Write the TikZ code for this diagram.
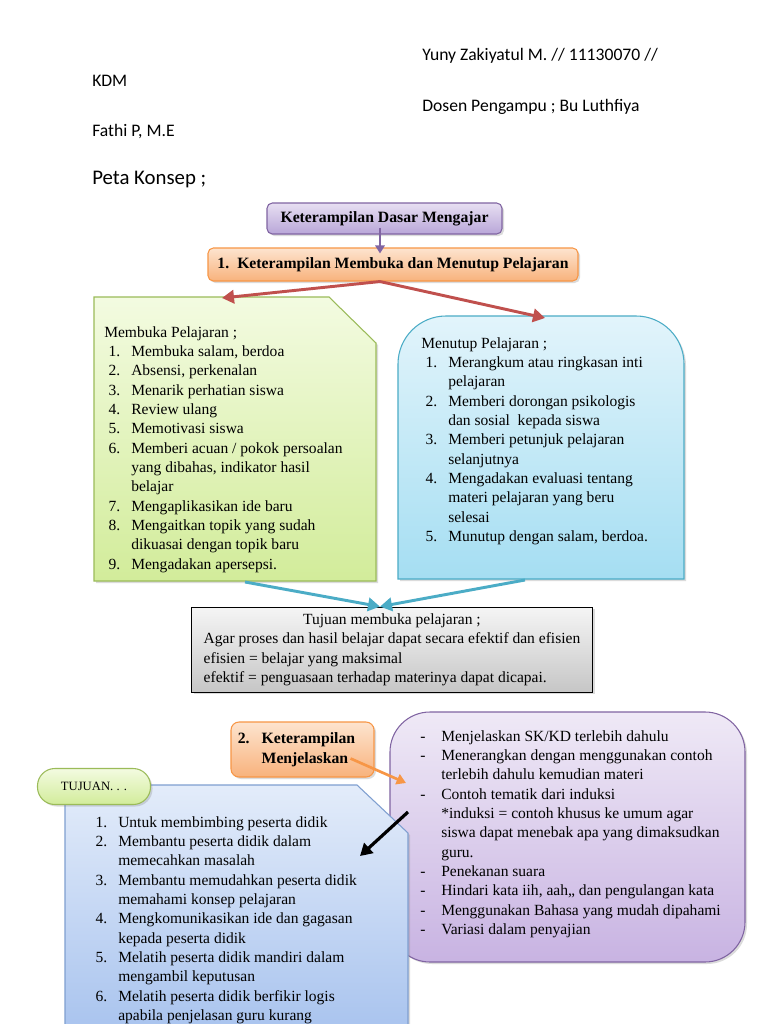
\documentclass[tikz,border=0pt]{standalone}
\usepackage{fontspec}
\setmainfont{Liberation Serif}
\newfontfamily\hdrfont{Carlito}
\usetikzlibrary{arrows.meta,shadows,calc}
\definecolor{lavT}{HTML}{E7DFF2}
\definecolor{lavB}{HTML}{B9A6D8}
\definecolor{purpB}{HTML}{8064A2}
\definecolor{orgT}{HTML}{FDE4CF}
\definecolor{orgBot}{HTML}{F8B27C}
\definecolor{orgB}{HTML}{F79646}
\definecolor{redA}{HTML}{C0504D}
\definecolor{grnT}{HTML}{F3FBE1}
\definecolor{grnBot}{HTML}{D2EC9A}
\definecolor{grnB}{HTML}{9BBB59}
\definecolor{bluT}{HTML}{E2F4FB}
\definecolor{bluBot}{HTML}{A5DEF2}
\definecolor{bluB}{HTML}{4BACC6}
\definecolor{gryT}{HTML}{F5F5F5}
\definecolor{gryB}{HTML}{C6C6C6}
\definecolor{pplT}{HTML}{EFE9F6}
\definecolor{pplBot}{HTML}{C8B3E2}
\definecolor{lbT}{HTML}{E3ECFA}
\definecolor{lbBot}{HTML}{A8C3EE}
\definecolor{lbB}{HTML}{7F9FD0}
\newcommand\itm[2]{\makebox[12pt][r]{#1}\hspace{8.25pt}#2}
\newcommand\cnt[1]{\hspace{20.25pt}#1}
\newcommand\dsh[1]{\makebox[15.75pt][l]{-}#1}
\begin{document}
\begin{tikzpicture}[x=0.75pt,y=-0.75pt,
  txt/.style={inner sep=0pt,font=\fontsize{11.65}{14.5}\selectfont},
  btxt/.style={inner sep=0pt,font=\bfseries\fontsize{11.8}{14.5}\selectfont},
  hdr/.style={inner sep=0pt,anchor=base west,font=\hdrfont\fontsize{13.2}{15}\selectfont},
  shad/.style={drop shadow={opacity=0.28,shadow xshift=1.5pt,shadow yshift=-1.5pt}},
  conn/.style={line width=2.2pt,-{Triangle[length=9pt,width=10pt]}},
]
\useasboundingbox (0,0) rectangle (768,1024);
\fill[white] (0,0) rectangle (768,1024);

% header
\node[hdr] (name) at (422,61) {Yuny Zakiyatul M. // 11130070 //};
\node[hdr] (kdm) at (92,87) {KDM};
\node[hdr] (dosen) at (422,111) {Dosen Pengampu ; Bu Luthfiya};
\node[hdr] (fathi) at (92,137) {Fathi P, M.E};
\node[hdr,font=\hdrfont\fontsize{15.6}{18}\selectfont] (peta) at (92,184) {Peta Konsep ;};

% top boxes
\node[btxt,shad,draw=purpB,line width=0.8pt,rounded corners=4pt,top color=lavT,bottom color=lavB,
  minimum width=176.25pt,minimum height=23.25pt] (dasar) at (384.5,218.5) {Keterampilan Dasar Mengajar};
\node[btxt,shad,draw=orgB,line width=0.8pt,rounded corners=4pt,top color=orgT,bottom color=orgBot,
  minimum width=277.5pt,minimum height=24.75pt] (b1) at (393,264.5) {1.\hspace{6pt}Keterampilan Membuka dan Menutup Pelajaran};

% green box
\path[shad,draw=grnB,line width=0.8pt,top color=grnT,bottom color=grnBot]
  (94,297) -- (329,297) -- (376,343) -- (376,581) -- (94,581) -- cycle;
\coordinate (gtop) at (222,298);
\coordinate (gbot) at (245,582);
\node[txt,anchor=base west] (gtxt) at (104,337) {\begin{tabular}[t]{@{}l@{}}
Membuka Pelajaran ;\\
\itm{1.}{Membuka salam, berdoa}\\
\itm{2.}{Absensi, perkenalan}\\
\itm{3.}{Menarik perhatian siswa}\\
\itm{4.}{Review ulang}\\
\itm{5.}{Memotivasi siswa}\\
\itm{6.}{Memberi acuan / pokok persoalan}\\
\cnt{yang dibahas, indikator hasil}\\
\cnt{belajar}\\
\itm{7.}{Mengaplikasikan ide baru}\\
\itm{8.}{Mengaitkan topik yang sudah}\\
\cnt{dikuasai dengan topik baru}\\
\itm{9.}{Mengadakan apersepsi.}
\end{tabular}};

% blue box
\path[shad,draw=bluB,line width=0.8pt,top color=bluT,bottom color=bluBot]
  (398,579) -- (398,364) .. controls (398,337.5) and (419.5,316) .. (446,316)
  -- (636,316) .. controls (662.5,316) and (684,337.5) .. (684,364) -- (684,579) -- cycle;
\coordinate (btop) at (545,318);
\coordinate (bbot) at (525,580);
\node[txt,anchor=base west] (btxt) at (421,348) {\begin{tabular}[t]{@{}l@{}}
Menutup Pelajaran ;\\
\itm{1.}{Merangkum atau ringkasan inti}\\
\cnt{pelajaran}\\
\itm{2.}{Memberi dorongan psikologis}\\
\cnt{dan sosial\ \ kepada siswa}\\
\itm{3.}{Memberi petunjuk pelajaran}\\
\cnt{selanjutnya}\\
\itm{4.}{Mengadakan evaluasi tentang}\\
\cnt{materi pelajaran yang beru}\\
\cnt{selesai}\\
\itm{5.}{Munutup dengan salam, berdoa.}
\end{tabular}};

% grey box
\node[txt,shad,draw=black,line width=0.6pt,top color=gryT,bottom color=gryB,
  minimum width=300.75pt,minimum height=63.75pt] (tujuan1) at (392,649.5) {\begin{tabular}{@{}c@{}}
Tujuan membuka pelajaran ;\\
\multicolumn{1}{@{}l@{}}{Agar proses dan hasil belajar dapat secara efektif dan efisien}\\
\multicolumn{1}{@{}l@{}}{efisien = belajar yang maksimal}\\
\multicolumn{1}{@{}l@{}}{efektif = penguasaan terhadap materinya dapat dicapai.}
\end{tabular}};
\coordinate (gmeet) at ($(tujuan1.north)+(-12,0)$);

% arrows top
\draw[purpB,line width=1.6pt,-{Triangle[length=6pt,width=7pt]}] ($(dasar.south)+(-4.5,-7)$) -- ($(b1.north)+(-13,6)$);
\draw[redA,conn] ($(b1.south)+(-13,0)$) -- (gtop);
\draw[redA,conn] ($(b1.south)+(-13,0)$) -- (btop);
\draw[bluB,conn] (gbot) -- (gmeet);
\draw[bluB,conn] (bbot) -- (gmeet);

% purple box
\node[shad,draw=purpB,line width=0.8pt,rounded corners=30pt,top color=pplT,bottom color=pplBot,
  minimum width=266.25pt,minimum height=187.5pt,inner sep=0pt] (purp) at (567.5,837) {};
\node[txt,anchor=base west] (ptxt) at (420,741) {\begin{tabular}[t]{@{}l@{}}
\dsh{Menjelaskan SK/KD terlebih dahulu}\\
\dsh{Menerangkan dengan menggunakan contoh}\\
\hspace{15.75pt}terlebih dahulu kemudian materi\\
\dsh{Contoh tematik dari induksi}\\
\hspace{15.75pt}*induksi = contoh khusus ke umum agar\\
\hspace{15.75pt}siswa dapat menebak apa yang dimaksudkan\\
\hspace{15.75pt}guru.\\
\dsh{Penekanan suara}\\
\dsh{Hindari kata iih, aah,, dan pengulangan kata}\\
\dsh{Menggunakan Bahasa yang mudah dipahami}\\
\dsh{Variasi dalam penyajian}
\end{tabular}};

% orange box 2
\node[btxt,shad,draw=orgB,line width=0.8pt,rounded corners=6pt,top color=orgT,bottom color=orgBot,
  minimum width=107.25pt,minimum height=41.25pt] (k2) at (302.5,749.5)
  {\begin{tabular}{@{}l@{\hspace{9pt}}l@{}}2.&Keterampilan\\&Menjelaskan\end{tabular}\hspace*{9pt}};
\coordinate (oend) at (406,783);
\draw[orgB,line width=2pt,-{Triangle[length=7pt,width=8pt]}] ($(k2.east)+(-24,9)$) -- (oend);

% lower blue box
\path[shad,draw=lbB,line width=0.8pt,top color=lbT,bottom color=lbBot]
  (65,785) -- (357,785) -- (408,833) -- (408,1034) -- (65,1034) -- cycle;
\node[txt,anchor=base west] (ltxt) at (91,827) {\begin{tabular}[t]{@{}l@{}}
\itm{1.}{Untuk membimbing peserta didik}\\
\itm{2.}{Membantu peserta didik dalam}\\
\cnt{memecahkan masalah}\\
\itm{3.}{Membantu memudahkan peserta didik}\\
\cnt{memahami konsep pelajaran}\\
\itm{4.}{Mengkomunikasikan ide dan gagasan}\\
\cnt{kepada peserta didik}\\
\itm{5.}{Melatih peserta didik mandiri dalam}\\
\cnt{mengambil keputusan}\\
\itm{6.}{Melatih peserta didik berfikir logis}\\
\cnt{apabila penjelasan guru kurang}
\end{tabular}};

% TUJUAN pill
\node[shad,draw=grnB,line width=0.8pt,rounded corners=13pt,top color=grnT,bottom color=grnBot,
  minimum width=84.75pt,minimum height=27pt,inner sep=0pt,font=\fontsize{9.5}{11}\selectfont] (tuj) at (94,786.5) {TUJUAN. . .};

% black arrow
\coordinate (blk) at (408,812);
\coordinate (bltip) at (360,856);
\draw[black,line width=2.4pt,-{Triangle[length=9pt,width=10pt]}] (blk) -- (bltip);
\end{tikzpicture}
\end{document}
